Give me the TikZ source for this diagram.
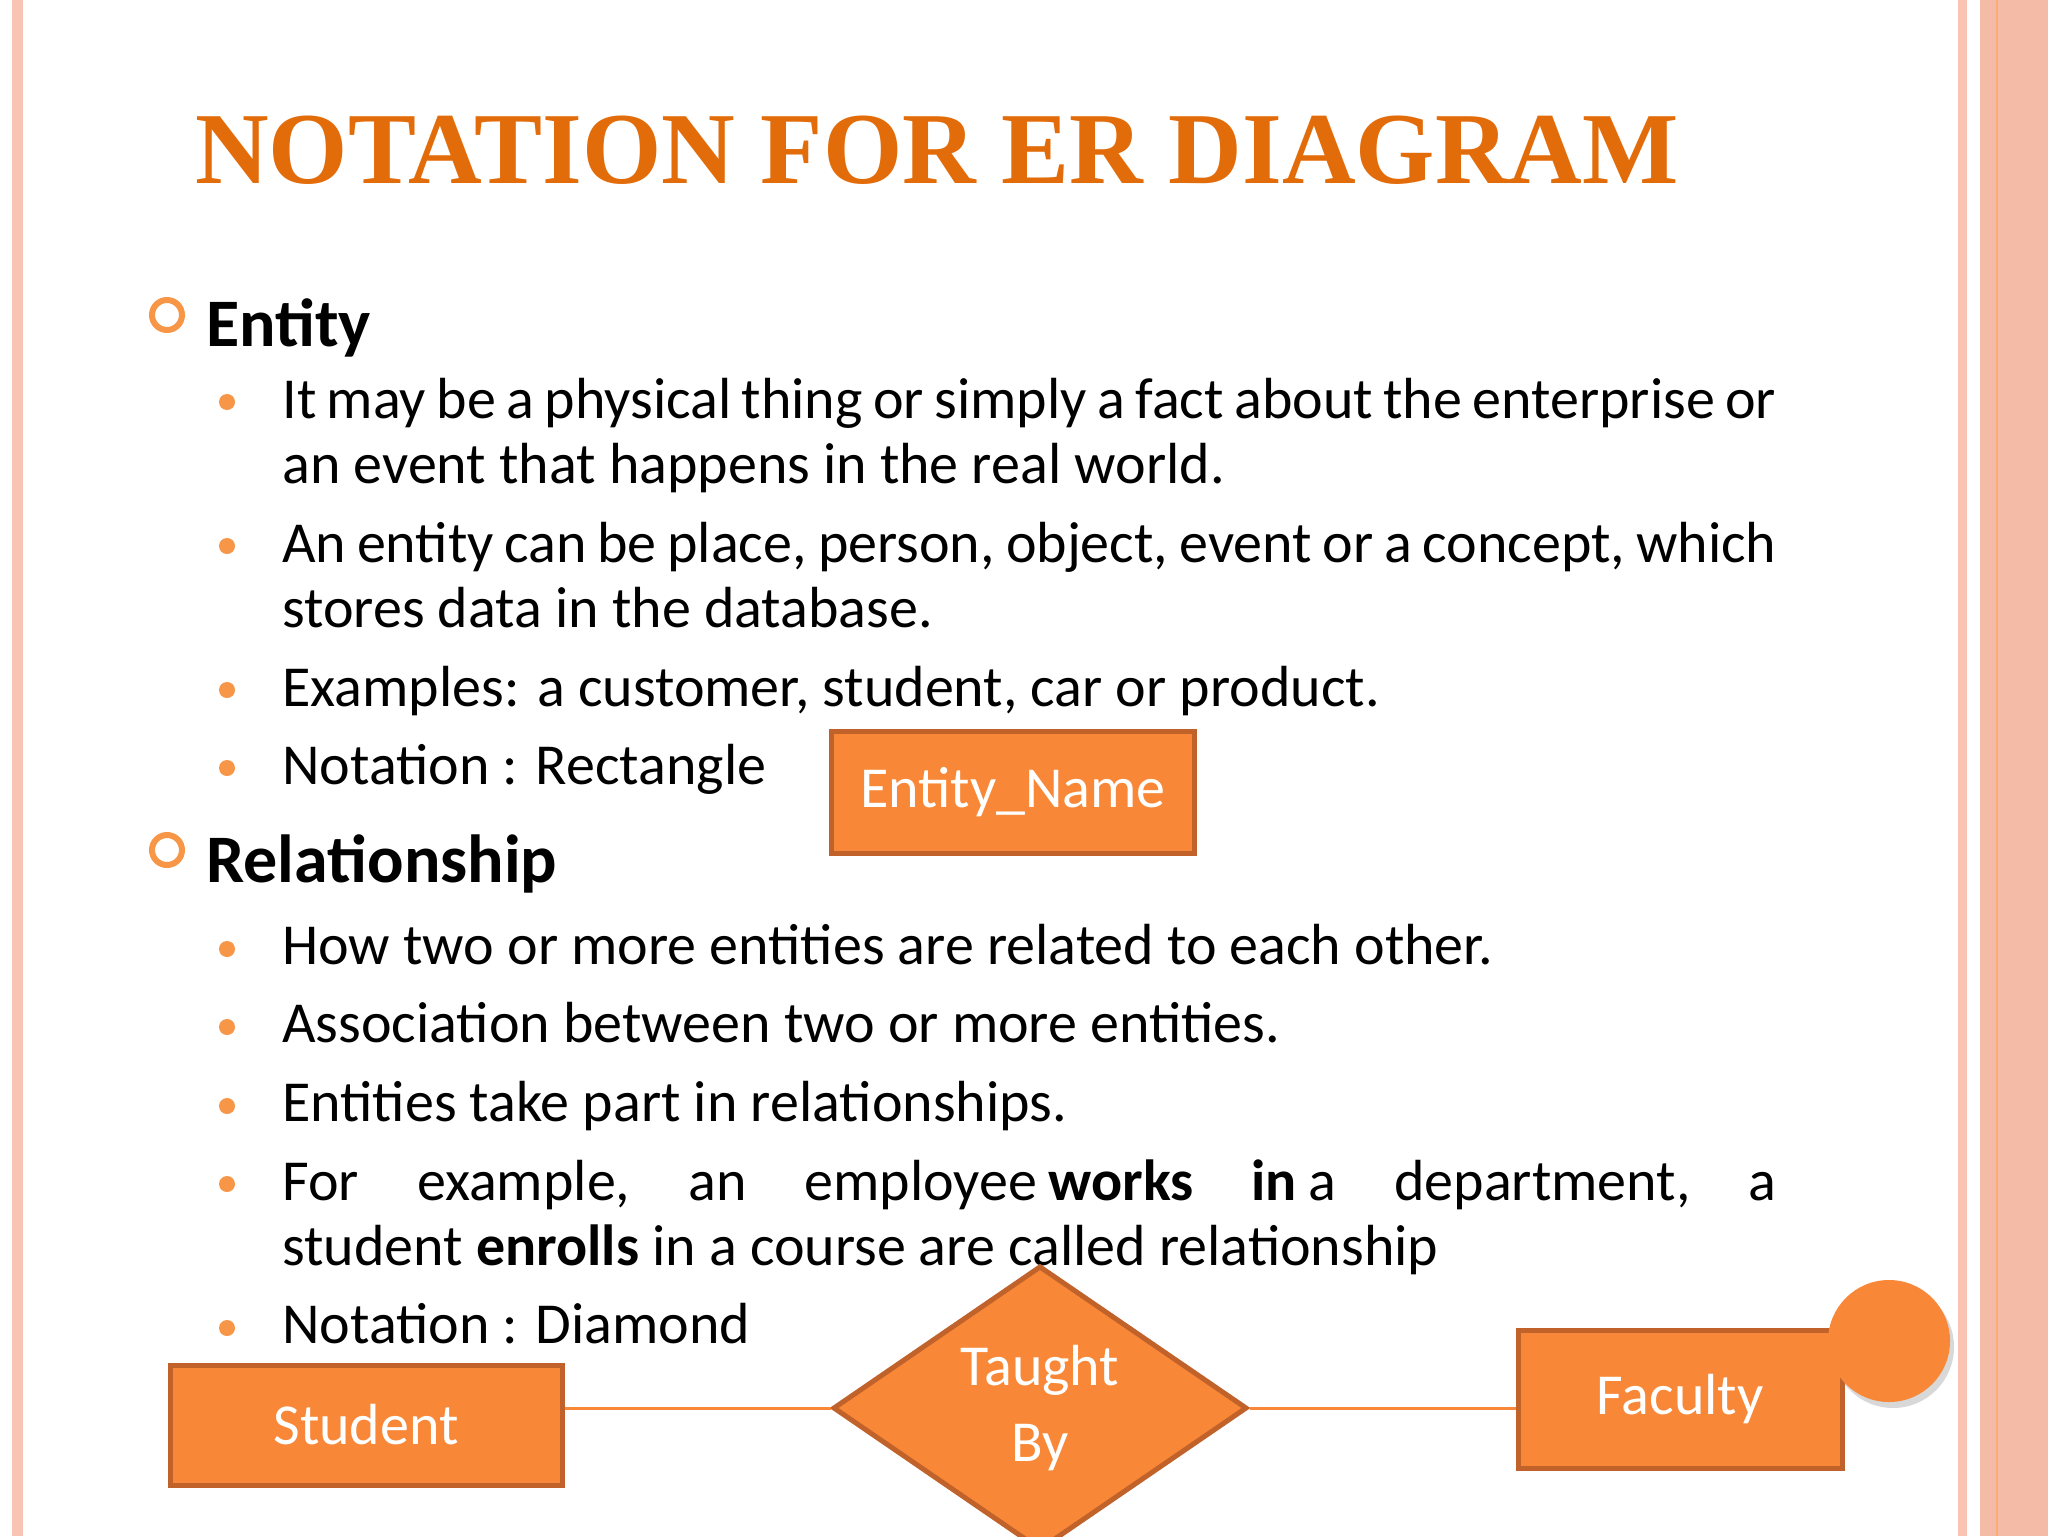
\documentclass[tikz,border=0pt]{standalone}
\usepackage{fontspec}
\setmainfont{Carlito}
\newfontfamily\titlefont{Liberation Serif}
\usetikzlibrary{shapes.geometric,shadows}
\definecolor{boxfill}{HTML}{F88837}
\definecolor{boxline}{HTML}{C0622A}
\definecolor{titlec}{HTML}{E36C0A}
\definecolor{bul}{HTML}{F79646}
\definecolor{stripe}{HTML}{F9C4B4}
\definecolor{stripeb}{HTML}{F4BBA6}
\tikzset{
  ent/.style={draw=boxline,line width=2.5pt,fill=boxfill,text=white,font=\fontsize{29pt}{34pt}\selectfont,inner sep=0pt},
  rel/.style={diamond,draw=boxline,line width=2.5pt,fill=boxfill,text=white,font=\fontsize{29pt}{34pt}\selectfont,inner sep=0pt,align=center},
  conn/.style={draw=boxfill,line width=1.5pt},
  body/.style={anchor=north west,text width=747pt,align=justify,font=\fontsize{29pt}{32.5pt}\selectfont,inner sep=0pt},
  head/.style={anchor=base west,font=\fontsize{34pt}{40pt}\selectfont\bfseries,inner sep=0pt},
  hbul/.style={circle,draw=bul,line width=3pt,minimum size=15pt,inner sep=0pt},
  sbul/.style={circle,fill=bul,minimum size=8pt,inner sep=0pt}
}
\begin{document}
\begin{tikzpicture}[x=0.5pt,y=-0.5pt]
\useasboundingbox (0,0) rectangle (2048,1536);
\fill[white] (0,0) rectangle (2048,1536);
% borders
\fill[stripe] (12,0) rectangle (23,1536);
\fill[stripe] (1958,0) rectangle (1967,1536);
\fill[stripeb] (1980,0) rectangle (2048,1536);
\fill[boxfill!70] (1996,0) rectangle (1998,1536);
% title
\node[font=\titlefont\fontsize{51pt}{56pt}\selectfont\bfseries,text=titlec] (title) at (937,150) {NOTATION FOR ER DIAGRAM};
% Entity
\node[hbul] (b1) at (167,315) {};
\node[head] (h1) at (206,346) {Entity};
\foreach \y/\n in {393/s1,537/s2,681/s3,759/s4,940/s5,1018/s6,1097/s7,1175/s8,1319/s9}
  \node[sbul] (\n) at (227,\y+9) {};
\node[body] (t1) at (282,378) {It may be a physical thing or simply a fact about the enterprise or\linebreak an event that happens in the real world.};
\node[body] (t2) at (282,522) {An entity can be place, person, object, event or a concept, which\linebreak stores data in the database.};
\node[body] (t3) at (282,666) {Examples: a customer, student, car or product.};
\node[body] (t4) at (282,744) {Notation : Rectangle};
\node[ent,minimum width=363pt/2*2*0.5,minimum height=61pt] (en) at (1013,792) {Entity\_Name};
% Relationship
\node[hbul] (b2) at (167,850) {};
\node[head] (h2) at (206,882) {Relationship};
\node[body] (t5) at (282,924) {How two or more entities are related to each other.};
\node[body] (t6) at (282,1002) {Association between two or more entities.};
\node[body] (t7) at (282,1081) {Entities take part in relationships.};
\node[body] (t8) at (282,1159) {For\quad example,\quad an\quad employee \textbf{works}\quad \textbf{in} a\quad department,\quad a\linebreak student \textbf{enrolls} in a course are called relationship};
\node[body] (t9) at (282,1303) {Notation : Diamond};
% diagram
\node[ent,minimum width=196pt,minimum height=60pt] (stu) at (366,1425) {Student};
\node[rel,minimum width=207pt,minimum height=127pt] (tb) at (1040,1408) {Taught\\[4pt]By};
\node[ent,minimum width=162pt,minimum height=69pt] (fac) at (1680,1399) {Faculty};
\coordinate (sl) at (stu.east |- tb.west);
\coordinate (fl) at (fac.west |- tb.east);
\draw[conn] (sl) -- (tb.west);
\draw[conn] (tb.east) -- (fl);
\node[circle,fill=boxfill,minimum size=61pt,inner sep=0pt,drop shadow={opacity=0.3,shadow xshift=2pt,shadow yshift=-3pt}] (dot) at (1889,1341) {};
\end{tikzpicture}
\end{document}
